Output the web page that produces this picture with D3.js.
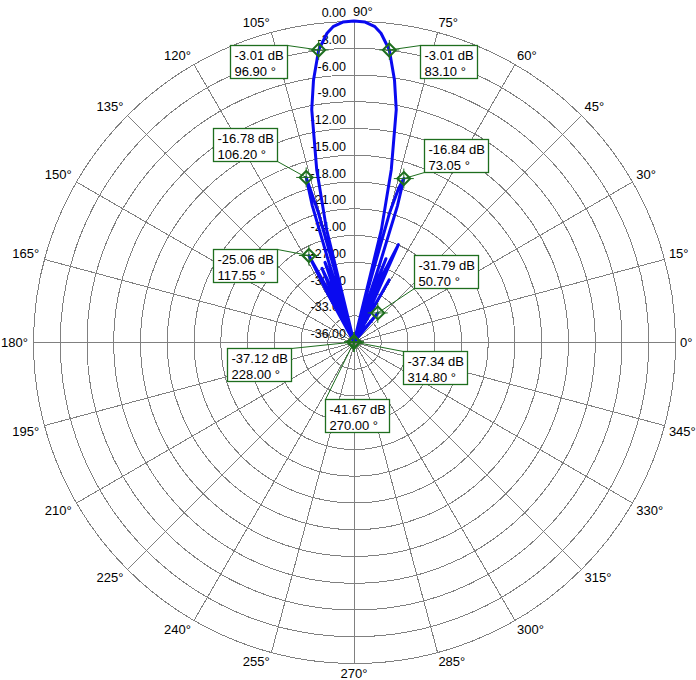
<!DOCTYPE html>
<html><head><meta charset="utf-8">
<script src="https://cdn.jsdelivr.net/npm/d3@7"></script>
<style>body{margin:0;background:#fff}svg{display:block}</style>
</head><body>
<script>
// ---- data ----
const ringValues = [0,-3,-6,-9,-12,-15,-18,-21,-24,-27,-30,-33,-36];
const ringLabels = ["0.00","-3.00","-6.00","-9.00","-12.00","-15.00","-18.00","-21.00","-24.00","-27.00","-30.00","-33.00","-36.00"];
const spokeAngles = [0,15,30,45,60,75,90,105,120,135,150,165,180,195,210,225,240,255,270,285,300,315,330,345];
const spokeLabels = ["0°","15°","30°","45°","60°","75°","90°","105°","120°","135°","150°","165°","180°","195°","210°","225°","240°","255°","270°","285°","300°","315°","330°","345°"];

// pattern (angle in degrees, level in dB)
const patternAngles = [0,30,45,49.4,50.0,50.7,51.4,52.0,56,58.5,60.5,62.5,64,65.5,67.0,67.8,69.0,70.3,71.2,71.7,72.3,73.05,73.8,74.6,75.2,75.8,76.3,77.8,79.7,81.2,83.1,85,86.2,88,90,92,93.8,95,96.9,98.8,100.3,102.2,103.7,104.2,104.8,105.4,106.2,107,107.6,108.2,109,110,111,111.6,112.5,113.5,114.5,115.2,116.3,117.55,118.6,119.3,125,150,180,228,270,314.8,360];
const patternDb =     [-45,-45,-45,-40,-34,-31.79,-34,-40,-45,-40,-28,-40,-32,-24,-28,-40,-26,-31,-40,-27,-20,-16.84,-18,-21,-30,-40,-23,-16.2,-9.5,-6.3,-3.01,-1.24,-0.56,-0.1,0,-0.1,-0.56,-1.24,-3.01,-6.3,-9.5,-16.2,-23,-40,-30,-21,-16.78,-20,-27,-40,-31,-26.5,-31,-40,-30,-27,-31,-40,-30,-25.06,-30,-40,-45,-45,-45,-37.12,-41.67,-37.34,-45];

// markers
const markerAngles = [96.90,83.10,106.20,73.05,117.55,50.70,228.00,314.80,270.00];
const markerDb     = [-3.01,-3.01,-16.78,-16.84,-25.06,-31.79,-37.12,-37.34,-41.67];
const markerText1  = ["-3.01 dB","-3.01 dB","-16.78 dB","-16.84 dB","-25.06 dB","-31.79 dB","-37.12 dB","-37.34 dB","-41.67 dB"];
const markerText2  = ["96.90 °","83.10 °","106.20 °","73.05 °","117.55 °","50.70 °","228.00 °","314.80 °","270.00 °"];
// annotation box offsets (layout) relative to marker
const boxOffsets = [[-89,-5],[31,-5],[-93,-49],[20,-40],[-96,-7],[36,-58],[-127,6],[49,9],[-29,57]];

// ---- layout ----
const W=696,H=680,cx=354,cy=342,R=321;
const GRID="#808080", GREEN="#1e6e1e", BLUE="#0a0af0";
const rScale = d3.scaleLinear().domain([-36,0]).range([0,R]).clamp(true);
const rad = a => a*Math.PI/180;
const px = (a,r) => cx + r*Math.cos(rad(a));
const py = (a,r) => cy - r*Math.sin(rad(a));

const svg = d3.select("body").append("svg").attr("width",W).attr("height",H)
  .style("font-family","'Liberation Sans',Arial,sans-serif");

const grid = svg.append("g").attr("stroke",GRID).attr("fill","none").attr("stroke-width",1)
  .attr("shape-rendering","crispEdges");
grid.selectAll("circle").data(ringValues.filter(v=>rScale(v)>0)).join("circle")
  .attr("cx",cx+0.5).attr("cy",cy+0.5).attr("r",d=>rScale(d));
grid.selectAll("line").data(spokeAngles).join("line")
  .attr("x1",cx+0.5).attr("y1",cy+0.5)
  .attr("x2",d=>px(d,R)+0.5).attr("y2",d=>py(d,R)+0.5);

// ring labels
svg.append("g").selectAll("text").data(ringValues).join("text")
  .attr("x",cx-8).attr("y",d=>cy-rScale(d)-4)
  .attr("text-anchor","end").attr("font-size",12.5).attr("fill","#000")
  .text((d,i)=>ringLabels[i]);

// angle labels
svg.append("g").selectAll("text").data(spokeAngles).join("text")
  .each(function(d,i){
    const c=Math.cos(rad(d)), s=Math.sin(rad(d));
    const off=5;
    let x=px(d,R+off), y=py(d,R+off);
    let anchor = Math.abs(c)<1e-6 ? (s>0?"start":"middle") : (c>0?"start":"end");
    let base = Math.abs(s)<1e-6 ? "central" : (s>0?"auto":"hanging");
    if (Math.abs(c)<1e-6 && s>0) x=cx-1;
    d3.select(this).attr("x",x).attr("y",y).attr("text-anchor",anchor)
      .attr("dominant-baseline",base).attr("font-size",13).text(spokeLabels[i]);
  });

// pattern
const pts = patternAngles.map((a,i)=>[a,patternDb[i]]);
const line = d3.lineRadial().angle(d=>rad(90-d[0])).radius(d=>rScale(d[1])).curve(d3.curveLinear);
svg.append("path").attr("transform",`translate(${cx},${cy})`)
  .attr("d",line(pts)).attr("fill","none").attr("stroke",BLUE)
  .attr("stroke-width",3).attr("stroke-linejoin","round");

// markers and annotation boxes
const ann = svg.append("g");
markerAngles.forEach((a,i)=>{
  const r=rScale(markerDb[i]); const mx=px(a,r), my=py(a,r);
  const bx=Math.round(mx+boxOffsets[i][0])+0.5, by=Math.round(my+boxOffsets[i][1])+0.5;
  const g=ann.append("g");
  const t1=g.append("text").attr("x",bx+4).attr("y",by+14).attr("font-size",13).text(markerText1[i]);
  const t2=g.append("text").attr("x",bx+4).attr("y",by+30).attr("font-size",13).text(markerText2[i]);
  const w=Math.round(Math.max(t1.node().getComputedTextLength(),t2.node().getComputedTextLength())+8);
  const h=33;
  const corners=[[bx,by],[bx+w,by],[bx,by+h],[bx+w,by+h]];
  let best=corners[0],bd=1e9;
  corners.forEach(c=>{const dd=(c[0]-mx)**2+(c[1]-my)**2; if(dd<bd){bd=dd;best=c;}});
  ann.insert("line",":first-child").attr("x1",best[0]).attr("y1",best[1]).attr("x2",mx).attr("y2",my)
    .attr("stroke",GREEN).attr("stroke-width",1);
  g.insert("rect",":first-child").attr("x",bx).attr("y",by).attr("width",w).attr("height",h)
    .attr("fill","#fff").attr("stroke",GREEN).attr("stroke-width",1.3);
});
const mk = svg.append("g");
markerAngles.forEach((a,i)=>{
  const r=rScale(markerDb[i]); const mx=px(a,r), my=py(a,r);
  const g=mk.append("g").attr("transform",`translate(${mx},${my})`).attr("stroke",GREEN).attr("fill","none");
  g.append("path").attr("d","M0,-6.5L6.5,0L0,6.5L-6.5,0Z").attr("stroke-width",2);
  g.append("line").attr("x1",-10).attr("x2",10).attr("y1",0).attr("y2",0).attr("stroke-width",1);
  g.append("line").attr("y1",-10).attr("y2",10).attr("x1",0).attr("x2",0).attr("stroke-width",1);
});
</script>
</body></html>
